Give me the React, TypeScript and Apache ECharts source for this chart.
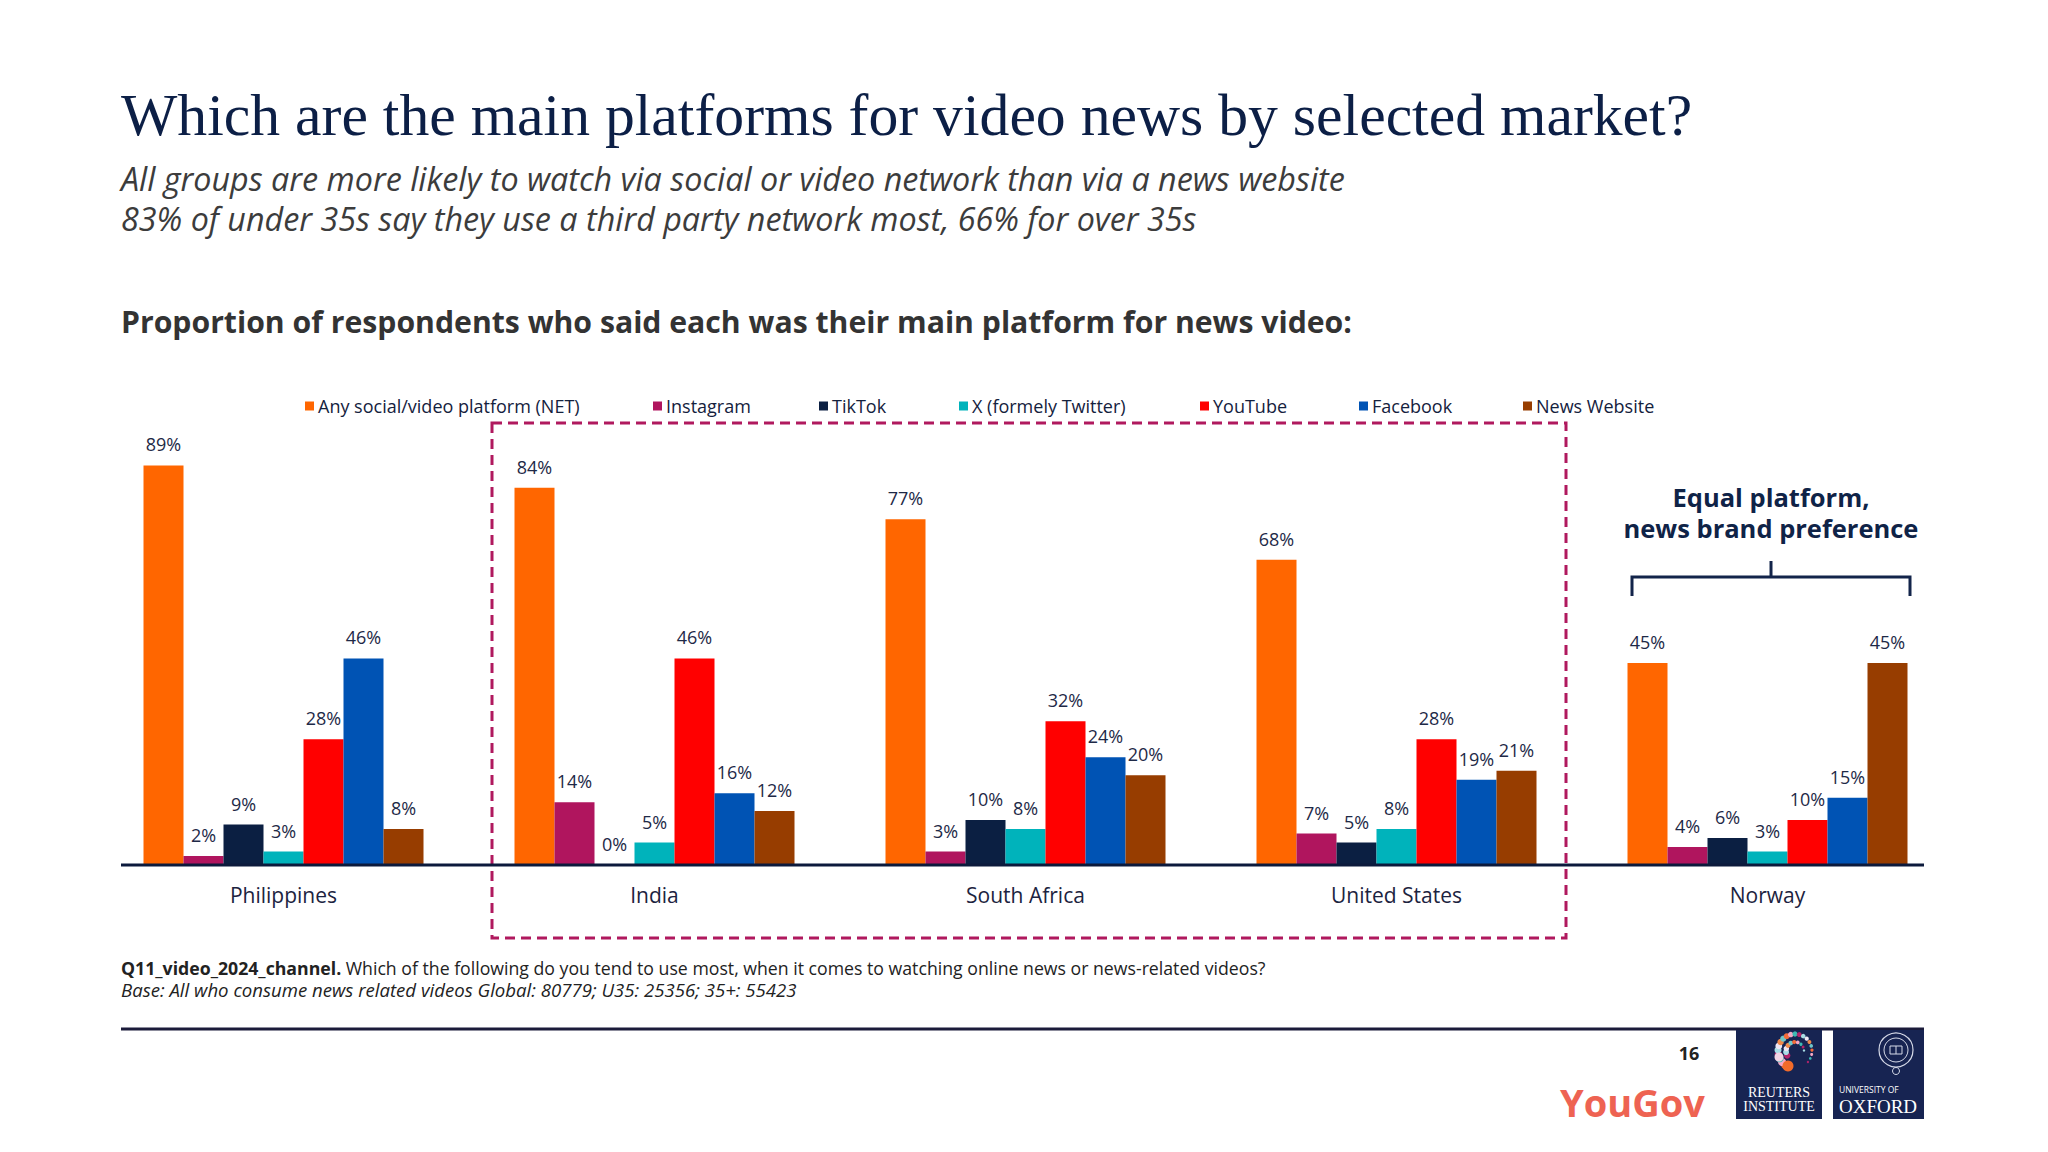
import React, { useEffect, useRef } from "react";
import * as echarts from "echarts";

const categories = ["Philippines", "India", "South Africa", "United States", "Norway"];
const seriesNames = [
  "Any social/video platform (NET)",
  "Instagram",
  "TikTok",
  "X (formely Twitter)",
  "YouTube",
  "Facebook",
  "News Website",
];
const anySocial = [89, 84, 77, 68, 45];
const instagram = [2, 14, 3, 7, 4];
const tiktok = [9, 0, 10, 5, 6];
const xTwitter = [3, 5, 8, 8, 3];
const youtube = [28, 46, 32, 28, 10];
const facebook = [46, 16, 24, 19, 15];
const newsWebsite = [8, 12, 20, 21, 45];
const seriesValues = [anySocial, instagram, tiktok, xTwitter, youtube, facebook, newsWebsite];
const seriesColors = ["#FF6600", "#B0155E", "#0B1F42", "#00B3BB", "#FF0000", "#0053B4", "#973D00"];

const title = "Which are the main platforms for video news by selected market?";
const subtitle1 = "All groups are more likely to watch via social or video network than via a news website";
const subtitle2 = "83% of under 35s say they use a third party network most, 66% for over 35s";
const subheading = "Proportion of respondents who said each was their main platform for news video:";
const noteBold = "Q11_video_2024_channel.";
const noteText = " Which of the following do you tend to use most, when it comes to watching online news or news-related videos?";
const baseText = "Base: All who consume news related videos Global: 80779; U35: 25356; 35+: 55423";
const annotation1 = "Equal platform,";
const annotation2 = "news brand preference";

const SANS = "'Open Sans', 'Noto Sans', sans-serif";
const SERIF = "'Liberation Serif', 'DejaVu Serif', serif";
const legendLefts = [305, 653, 819, 959, 1200, 1359, 1523];

function reutersDots() {
  const cx = 1795;
  const cy = 1051;
  const cols = ["#F26B3A", "#F5A7C4", "#3DBAB3", "#B3246B", "#A8DCE4", "#EEE6F4", "#F08A4B", "#6FC7C9"];
  const out: any[] = [];
  const n = 20;
  for (let i = 0; i < n; i++) {
    const a = ((125 + (i * 290) / n) * Math.PI) / 180;
    const r = 4.2 - (i * 3.2) / n;
    out.push({
      type: "circle",
      z: 30,
      shape: { cx: cx + 17 * Math.cos(a), cy: cy + 17 * Math.sin(a), r },
      style: { fill: cols[i % cols.length] },
    });
  }
  const m = 10;
  for (let i = 0; i < m; i++) {
    const a = ((150 + (i * 230) / m) * Math.PI) / 180;
    const r = 3.2 - (i * 2.2) / m;
    out.push({
      type: "circle",
      z: 30,
      shape: { cx: cx + 9 * Math.cos(a), cy: cy + 9 * Math.sin(a), r },
      style: { fill: cols[(i + 3) % cols.length] },
    });
  }
  out.push({ type: "circle", z: 31, shape: { cx: 1788, cy: 1066, r: 5.5 }, style: { fill: "#F26B2A" } });
  out.push({ type: "circle", z: 31, shape: { cx: 1779, cy: 1057, r: 4.5 }, style: { fill: "#F3D3E3" } });
  return out;
}

export default function App() {
  const ref = useRef<HTMLDivElement>(null);

  useEffect(() => {
    document.body.style.margin = "0";
    if (!ref.current) return;
    const chart = echarts.init(ref.current, null, { renderer: "svg" });

    const legends = seriesNames.map((name, i) => ({
      show: true,
      left: legendLefts[i],
      top: 397,
      data: [name],
      icon: "rect",
      itemWidth: 9,
      itemHeight: 9,
      itemGap: 0,
      padding: 0,
      selectedMode: false,
      textStyle: { fontFamily: SANS, fontSize: 18, color: "#14213D", padding: [0, 0, 0, -1] },
    }));

    const series = seriesNames.map((name, i) => ({
      name,
      type: "bar",
      data: seriesValues[i],
      barWidth: 40,
      barGap: "0%",
      itemStyle: { color: seriesColors[i] },
      label: {
        show: true,
        position: "top",
        distance: 12,
        formatter: "{c}%",
        fontFamily: SANS,
        fontSize: 18,
        color: "#1E2947",
      },
    }));

    const graphic: any[] = [
      {
        type: "text",
        x: 121,
        y: 115,
        style: { text: title, fontFamily: SERIF, fontSize: 59.7, fill: "#0C1F46", verticalAlign: "middle" },
      },
      {
        type: "text",
        x: 121,
        y: 197.5,
        style: {
          text: subtitle1 + "\n" + subtitle2,
          fontFamily: SANS,
          fontStyle: "italic",
          fontSize: 32.3,
          lineHeight: 40,
          fill: "#3C3C3C",
          verticalAlign: "middle",
        },
      },
      {
        type: "text",
        x: 121,
        y: 321,
        style: { text: subheading, fontFamily: SANS, fontWeight: "bold", fontSize: 30.2, fill: "#333333", verticalAlign: "middle" },
      },
      {
        type: "rect",
        z: 5,
        shape: { x: 492, y: 423, width: 1074, height: 515 },
        style: { fill: "none", stroke: "#B0195E", lineWidth: 3, lineDash: [10, 6] },
      },
      {
        type: "text",
        x: 1771,
        y: 512.5,
        style: {
          text: annotation1 + "\n" + annotation2,
          fontFamily: SANS,
          fontWeight: "bold",
          fontSize: 25.5,
          lineHeight: 31,
          fill: "#0F2347",
          align: "center",
          verticalAlign: "middle",
        },
      },
      {
        type: "polyline",
        shape: { points: [[1632, 596], [1632, 577], [1910, 577], [1910, 596]] },
        style: { stroke: "#13244A", lineWidth: 3, fill: "none" },
      },
      {
        type: "line",
        shape: { x1: 1771, y1: 577, x2: 1771, y2: 561 },
        style: { stroke: "#13244A", lineWidth: 3 },
      },
      {
        type: "line",
        z: 20,
        shape: { x1: 121, y1: 865, x2: 1924, y2: 865 },
        style: { stroke: "#0C1A3C", lineWidth: 3 },
      },
      {
        type: "text",
        x: 121,
        y: 968,
        style: {
          text: "{b|" + noteBold + "}{n|" + noteText + "}",
          verticalAlign: "middle",
          rich: {
            b: { fontFamily: SANS, fontWeight: "bold", fontSize: 17.7, fill: "#222222", color: "#222222", lineHeight: 20 },
            n: { fontFamily: SANS, fontSize: 17.7, fill: "#222222", color: "#222222", lineHeight: 20 },
          },
        },
      },
      {
        type: "text",
        x: 121,
        y: 989,
        style: { text: baseText, fontFamily: SANS, fontStyle: "italic", fontSize: 18.6, lineHeight: 20, fill: "#222222", verticalAlign: "middle" },
      },
      {
        type: "line",
        shape: { x1: 121, y1: 1029, x2: 1924, y2: 1029 },
        style: { stroke: "#1B1B3A", lineWidth: 3 },
      },
      {
        type: "text",
        x: 1689,
        y: 1053,
        style: { text: "16", fontFamily: SANS, fontWeight: "bold", fontSize: 18, fill: "#222222", align: "center", verticalAlign: "middle" },
      },
      {
        type: "text",
        x: 1560,
        y: 1102,
        style: { text: "YouGov", fontFamily: SANS, fontWeight: "bold", fontSize: 38, fill: "#EE6352", verticalAlign: "middle" },
      },
      {
        type: "rect",
        z: 25,
        shape: { x: 1736, y: 1030, width: 86, height: 89 },
        style: { fill: "#172452" },
      },
      {
        type: "rect",
        z: 25,
        shape: { x: 1833, y: 1030, width: 91, height: 89 },
        style: { fill: "#172452" },
      },
      ...reutersDots(),
      {
        type: "text",
        z: 30,
        x: 1779,
        y: 1099,
        style: {
          text: "REUTERS\nINSTITUTE",
          fontFamily: SERIF,
          fontSize: 14,
          lineHeight: 14,
          fill: "#FFFFFF",
          align: "center",
          verticalAlign: "middle",
        },
      },
      {
        type: "circle",
        z: 30,
        shape: { cx: 1896, cy: 1050, r: 17 },
        style: { fill: "none", stroke: "#D6DAE8", lineWidth: 1.2 },
      },
      {
        type: "circle",
        z: 30,
        shape: { cx: 1896, cy: 1050, r: 12 },
        style: { fill: "none", stroke: "#D6DAE8", lineWidth: 1 },
      },
      {
        type: "rect",
        z: 30,
        shape: { x: 1890, y: 1046, width: 12, height: 8 },
        style: { fill: "none", stroke: "#D6DAE8", lineWidth: 1 },
      },
      {
        type: "line",
        z: 30,
        shape: { x1: 1896, y1: 1046, x2: 1896, y2: 1054 },
        style: { stroke: "#D6DAE8", lineWidth: 1 },
      },
      {
        type: "circle",
        z: 30,
        shape: { cx: 1896, cy: 1071, r: 3.5 },
        style: { fill: "none", stroke: "#D6DAE8", lineWidth: 1 },
      },
      {
        type: "text",
        z: 30,
        x: 1839,
        y: 1089,
        style: { text: "UNIVERSITY OF", fontFamily: SANS, fontSize: 8.5, lineHeight: 9, fill: "#FFFFFF", verticalAlign: "middle" },
      },
      {
        type: "text",
        z: 30,
        x: 1878,
        y: 1106,
        style: { text: "OXFORD", fontFamily: SERIF, fontSize: 19, lineHeight: 19, fill: "#FFFFFF", align: "center", verticalAlign: "middle" },
      },
    ];

    chart.setOption({
      animation: false,
      backgroundColor: "#FFFFFF",
      legend: legends,
      grid: { left: 98, width: 1855, top: 416, height: 449, containLabel: false },
      xAxis: {
        type: "category",
        data: categories,
        axisLine: { show: false },
        axisTick: { show: false },
        axisLabel: { margin: 19, fontFamily: SANS, fontSize: 21, color: "#1C2340" },
      },
      yAxis: { type: "value", min: 0, max: 100, show: false, splitLine: { show: false } },
      series,
      graphic,
    });

    return () => chart.dispose();
  }, []);

  return (
    <div
      ref={ref}
      style={{ position: "fixed", left: 0, top: 0, width: 2048, height: 1152, background: "#FFFFFF" }}
    />
  );
}
